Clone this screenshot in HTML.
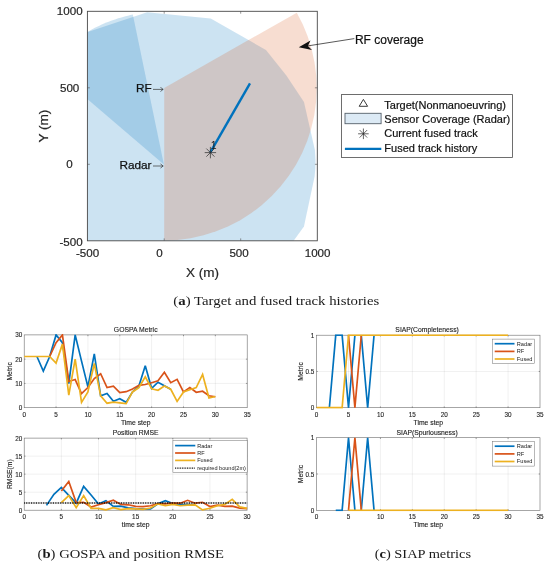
<!DOCTYPE html>
<html lang="en"><head><meta charset="utf-8"><title>Target and fused track histories; GOSPA, RMSE and SIAP metrics</title>
<style>html,body{margin:0;padding:0;background:#fff}body{width:550px;height:566px;overflow:hidden}svg{display:block;font-family:"Liberation Sans", Arial, Helvetica, sans-serif}</style></head><body>
<svg width="550" height="566" viewBox="0 0 550 566">
<rect width="550" height="566" fill="#fff"/>
<clipPath id="cpTop"><rect x="87.4" y="11.3" width="229.9" height="229.5"/></clipPath>
<g clip-path="url(#cpTop)">
<polygon points="147.15,12.25 210.72,18.54 265.98,50.06 286.36,75.54 303.97,102.07 314.9,150 315.5,160 315.4,168 314.6,176.5 303.97,226.53 266.58,278 211.48,309.81 148.21,316.46 87.7,296.8 40.42,254.23 14.54,196.11 14.54,132.49 39.64,75.45 86.55,32.47" fill="#0072BD" fill-opacity="0.2"/>
<polygon points="163.9,164.6 132.83,14.58 130.37,15.11 127.92,15.69 125.47,16.3 123.04,16.95 120.61,17.64 118.2,18.37 115.8,19.15 113.42,19.96 111.04,20.81 108.69,21.7 106.34,22.62 104.02,23.59 101.7,24.59 99.41,25.64 97.13,26.71 94.87,27.83 92.63,28.99 90.41,30.18 88.21,31.4 86.03,32.67 83.87,33.97 81.73,35.3 79.62,36.67 77.52,38.07 75.45,39.51 73.41,40.98 71.39,42.49 69.39,44.03 67.42,45.6 65.48,47.2 63.56,48.83 61.67,50.5 59.8,52.2 57.97,53.92 56.16,55.68 54.39,57.47 52.64,59.28 50.92,61.13 49.24,63 47.58,64.9" fill="#0072BD" fill-opacity="0.2"/>
<polygon points="164.2,88 164.2,240.5 177.45,239.92 190.59,238.2 203.54,235.34 216.19,231.36 228.45,226.31 240.22,220.2 251.42,213.1 261.95,205.05 271.75,196.12 280.74,186.36 288.84,175.87 296,164.71 302.17,152.97 307.29,140.74 311.33,128.11 314.26,115.18 316.05,102.04 316.7,88.8 316.19,75.55 314.53,62.39 311.74,49.43 307.83,36.76 302.84,24.48 296.8,12.67" fill="#D95319" fill-opacity="0.2"/>
</g>
<line x1="210.3" y1="152.4" x2="250" y2="83.3" stroke="#0072BD" stroke-width="2.4" stroke-linecap="butt"/>
<text x="210.7" y="148.9" font-size="10.5" fill="#1a1a1a">1</text>
<path d="M204.7 152.6H216.1M210.4 146.9V158.3M206.37 148.57L214.43 156.63M206.37 156.63L214.43 148.57" stroke="#2a2a2a" stroke-width="0.7" fill="none"/>
<rect x="87.4" y="11.3" width="229.9" height="229.5" fill="none" stroke="#484848" stroke-width="0.9"/>
<path d="M164.2 240.8v-2.4M164.2 11.3v2.4M87.4 164.3h2.4M317.3 164.3h-2.4M240.7 240.8v-2.4M240.7 11.3v2.4M87.4 87.8h2.4M317.3 87.8h-2.4" stroke="#505050" stroke-width="0.6" fill="none"/>
<g font-size="11.6" fill="#262626" stroke="#262626" stroke-width="0.2">
<text x="82.6" y="15.2" text-anchor="end">1000</text>
<text x="79.3" y="91.7" text-anchor="end">500</text>
<text x="72.6" y="168.1" text-anchor="end">0</text>
<text x="82.6" y="245.5" text-anchor="end">-500</text>
<text x="87.6" y="257" text-anchor="middle">-500</text>
<text x="159.6" y="257" text-anchor="middle">0</text>
<text x="239.1" y="257" text-anchor="middle">500</text>
<text x="317.6" y="257" text-anchor="middle">1000</text>
</g>
<text x="202.4" y="276.8" font-size="13.5" fill="#262626" stroke="#262626" stroke-width="0.2" text-anchor="middle">X (m)</text>
<text transform="translate(47.9 126.1) rotate(-90)" font-size="13.6" fill="#262626" stroke="#262626" stroke-width="0.2" text-anchor="middle">Y (m)</text>
<g font-size="11.8" fill="#111" stroke="#111" stroke-width="0.25">
<text x="136" y="91.9">RF</text>
<text x="119.4" y="168.7">Radar</text>
</g>
<path d="M153 89.4H163.1M160.6 87.1Q161.6 88.8 163.2 89.4Q161.6 90 160.6 91.7" stroke="#333" stroke-width="0.7" fill="none"/>
<path d="M153 166H163.1M160.6 163.7Q161.6 165.4 163.2 166Q161.6 166.6 160.6 168.3" stroke="#333" stroke-width="0.7" fill="none"/>
<text x="354.9" y="43.5" font-size="12" fill="#111" stroke="#111" stroke-width="0.2">RF coverage</text>
<line x1="354.3" y1="38.6" x2="302.8" y2="46.7" stroke="#111" stroke-width="0.7"/>
<polygon points="298.8,47.3 310.5,40.61 307.89,45.88 311.99,50.09" fill="#111"/>
<rect x="341.4" y="94.6" width="171" height="62.8" fill="#fff" stroke="#4a4a4a" stroke-width="0.8"/>
<g font-size="11" fill="#111" stroke="#111" stroke-width="0.2">
<text x="384.3" y="108.5">Target(Nonmanoeuvring)</text>
<text x="384.3" y="123">Sensor Coverage (Radar)</text>
<text x="384.3" y="137.2">Current fused track</text>
<text x="384.3" y="151.6">Fused track history</text>
</g>
<polygon points="363.4,99.4 359.2,106.3 367.6,106.3" fill="none" stroke="#222" stroke-width="0.9"/>
<rect x="345" y="113.3" width="36.1" height="10.4" fill="#DCEAF5" stroke="#55606a" stroke-width="0.9"/>
<path d="M358.1 133.8H368.7M363.4 128.5V139.1M359.65 130.05L367.15 137.55M359.65 137.55L367.15 130.05" stroke="#222" stroke-width="0.7" fill="none"/>
<line x1="344.9" y1="148.9" x2="381.3" y2="148.9" stroke="#0072BD" stroke-width="2.4"/>
<path d="M56.06 334.9V407.7M87.91 334.9V407.7M119.77 334.9V407.7M151.63 334.9V407.7M183.49 334.9V407.7M215.34 334.9V407.7M24.2 383.43H247.2M24.2 359.17H247.2" stroke="#000" stroke-opacity="0.10" stroke-width="0.6" fill="none"/>
<rect x="24.2" y="334.9" width="223" height="72.8" fill="none" stroke="#6c6c6c" stroke-width="0.6"/>
<path d="M56.06 407.7v-1.3M56.06 334.9v1.3M87.91 407.7v-1.3M87.91 334.9v1.3M119.77 407.7v-1.3M119.77 334.9v1.3M151.63 407.7v-1.3M151.63 334.9v1.3M183.49 407.7v-1.3M183.49 334.9v1.3M215.34 407.7v-1.3M215.34 334.9v1.3M24.2 383.43h1.3M247.2 383.43h-1.3M24.2 359.17h1.3M247.2 359.17h-1.3" stroke="#444" stroke-width="0.5" fill="none"/>
<clipPath id="cpG"><rect x="23.2" y="333.9" width="225" height="74.8"/></clipPath>
<g clip-path="url(#cpG)" fill="none" stroke-width="1.7" stroke-linejoin="miter" stroke-miterlimit="3">
<polyline points="36.94,356.5 43.31,371.06 49.69,356.5 56.06,334.9 62.43,342.67 68.8,383.68 75.17,334.9 81.54,361.11 87.91,386.83 94.29,353.83 100.66,395.81 107.03,393.5 113.4,401.27 119.77,398.72 126.14,402.36 132.51,391.93 138.89,386.1 145.26,365.84 151.63,388.29 158,382.22 164.37,385.74 170.74,389.26" stroke="#0072BD"/>
<polyline points="49.69,356.5 56.06,342.67 62.43,334.9 68.8,381.49 75.17,379.55 81.54,393.5 87.91,387.56 94.29,378.58 100.66,373.73 107.03,387.56 113.4,386.1 119.77,392.65 126.14,391.68 132.51,389.01 138.89,385.37 145.26,384.53 151.63,382.71 158,380.76 164.37,372.27 170.74,382.71 177.11,379.31 183.49,391.93 189.86,387.56 196.23,392.29 202.6,391.2 208.97,395.81 215.34,396.78" stroke="#D95319"/>
<polyline points="24.2,356.5 30.57,356.5 36.94,356.5 43.31,356.5 49.69,356.5 56.06,363.05 62.43,344.12 68.8,395.08 75.17,359.17 81.54,402.36 87.91,391.93 94.29,363.53 100.66,395.81 107.03,403.21 113.4,402.12 119.77,402.85 126.14,403.57 132.51,391.93 138.89,387.56 145.26,376.76 151.63,388.77 158,390.23 164.37,386.1 170.74,389.26 177.11,401.39 183.49,391.93 189.86,389.74 196.23,387.56 202.6,374.45 208.97,397.99 215.34,396.54" stroke="#EDB120"/>
</g>
<g font-size="6.35" fill="#262626" stroke="#262626" stroke-width="0.12">
<text x="24.2" y="416.6" text-anchor="middle">0</text>
<text x="56.06" y="416.6" text-anchor="middle">5</text>
<text x="87.91" y="416.6" text-anchor="middle">10</text>
<text x="119.77" y="416.6" text-anchor="middle">15</text>
<text x="151.63" y="416.6" text-anchor="middle">20</text>
<text x="183.49" y="416.6" text-anchor="middle">25</text>
<text x="215.34" y="416.6" text-anchor="middle">30</text>
<text x="247.2" y="416.6" text-anchor="middle">35</text>
<text x="22.3" y="410.25" text-anchor="end">0</text>
<text x="22.3" y="385.98" text-anchor="end">10</text>
<text x="22.3" y="361.72" text-anchor="end">20</text>
<text x="22.3" y="337.45" text-anchor="end">30</text>
</g>
<g font-size="6.8" fill="#1c1c1c" stroke="#1c1c1c" stroke-width="0.12" text-anchor="middle">
<text x="135.7" y="332.1">GOSPA Metric</text>
<text x="135.7" y="425.2">Time step</text>
<text transform="translate(12.1 371.3) rotate(-90)">Metric</text>
</g>
<path d="M61.35 438.1V510.2M98.5 438.1V510.2M135.65 438.1V510.2M172.8 438.1V510.2M209.95 438.1V510.2M24.2 492.18H247.1M24.2 474.15H247.1M24.2 456.12H247.1" stroke="#000" stroke-opacity="0.10" stroke-width="0.6" fill="none"/>
<rect x="24.2" y="438.1" width="222.9" height="72.1" fill="none" stroke="#6c6c6c" stroke-width="0.6"/>
<path d="M61.35 510.2v-1.3M61.35 438.1v1.3M98.5 510.2v-1.3M98.5 438.1v1.3M135.65 510.2v-1.3M135.65 438.1v1.3M172.8 510.2v-1.3M172.8 438.1v1.3M209.95 510.2v-1.3M209.95 438.1v1.3M24.2 492.18h1.3M247.1 492.18h-1.3M24.2 474.15h1.3M247.1 474.15h-1.3M24.2 456.12h1.3M247.1 456.12h-1.3" stroke="#444" stroke-width="0.5" fill="none"/>
<clipPath id="cpR"><rect x="23.2" y="437.1" width="224.9" height="74.1"/></clipPath>
<g clip-path="url(#cpR)" fill="none" stroke-width="1.7" stroke-linejoin="miter" stroke-miterlimit="3">
<polyline points="46.49,505.37 53.92,494.34 61.35,487.49 68.78,495.42 76.21,503.21 83.64,486.41 91.07,495.06 98.5,504.07 105.93,500.65 113.36,506.38 120.79,506.13 128.22,507.89 135.65,508.69 143.08,509.19 150.51,508.94 157.94,503.82 165.37,500.65 172.8,503.46 180.23,504.43 187.66,504.61 195.09,504.79" stroke="#0072BD"/>
<polyline points="61.35,491.09 68.78,481.54 76.21,502.63 83.64,502.27 91.07,506.96 98.5,504.79 105.93,502.63 113.36,500.29 120.79,504.43 128.22,504.79 135.65,506.38 143.08,506.59 150.51,505.73 157.94,503.57 165.37,503.82 172.8,502.99 180.23,503.21 187.66,500.29 195.09,503.21 202.52,502.27 209.95,506.59 217.38,505.15 224.81,506.38 232.24,506.13 239.67,508.04 247.1,508.69" stroke="#D95319"/>
<polyline points="61.35,502.63 68.78,495.56 76.21,507.68 83.64,495.56 91.07,508.29 98.5,508.4 105.93,509.84 113.36,507.68 120.79,509.55 128.22,508.69 135.65,508.94 143.08,509.3 150.51,508.04 157.94,503.82 165.37,505.73 172.8,504.43 180.23,505.73 187.66,505.15 195.09,504.79 202.52,509.95 209.95,508.29 217.38,505.73 224.81,504.43 232.24,499.38 239.67,506.96 247.1,508.29" stroke="#EDB120"/>
<line x1="24.2" y1="502.99" x2="247.1" y2="502.99" stroke="#000" stroke-width="1.4" stroke-dasharray="0.9 0.8"/>
</g>
<g font-size="6.35" fill="#262626" stroke="#262626" stroke-width="0.12">
<text x="24.2" y="519.4" text-anchor="middle">0</text>
<text x="61.35" y="519.4" text-anchor="middle">5</text>
<text x="98.5" y="519.4" text-anchor="middle">10</text>
<text x="135.65" y="519.4" text-anchor="middle">15</text>
<text x="172.8" y="519.4" text-anchor="middle">20</text>
<text x="209.95" y="519.4" text-anchor="middle">25</text>
<text x="247.1" y="519.4" text-anchor="middle">30</text>
<text x="22.3" y="512.75" text-anchor="end">0</text>
<text x="22.3" y="494.73" text-anchor="end">5</text>
<text x="22.3" y="476.7" text-anchor="end">10</text>
<text x="22.3" y="458.68" text-anchor="end">15</text>
<text x="22.3" y="440.65" text-anchor="end">20</text>
</g>
<g font-size="6.8" fill="#1c1c1c" stroke="#1c1c1c" stroke-width="0.12" text-anchor="middle">
<text x="135.65" y="434.9">Position RMSE</text>
<text x="135.65" y="526.9">time step</text>
<text transform="translate(12.1 474.15) rotate(-90)">RMSE(m)</text>
</g>
<rect x="172.9" y="440.7" width="74.3" height="31.6" fill="#fff" stroke="#707070" stroke-width="0.5"/>
<line x1="175.1" y1="445.6" x2="195.3" y2="445.6" stroke="#0072BD" stroke-width="1.7"/>
<text x="197.2" y="447.5" font-size="5.55" fill="#222">Radar</text>
<line x1="175.1" y1="453" x2="195.3" y2="453" stroke="#D95319" stroke-width="1.7"/>
<text x="197.2" y="454.9" font-size="5.55" fill="#222">RF</text>
<line x1="175.1" y1="460.4" x2="195.3" y2="460.4" stroke="#EDB120" stroke-width="1.7"/>
<text x="197.2" y="462.3" font-size="5.55" fill="#222">Fused</text>
<line x1="175.1" y1="468.1" x2="195.3" y2="468.1" stroke="#000" stroke-width="1.4" stroke-dasharray="0.9 0.8"/>
<text x="197.2" y="470" font-size="5.55" fill="#222">required bound(2m)</text>
<path d="M348.51 335.2V407.7M380.43 335.2V407.7M412.34 335.2V407.7M444.26 335.2V407.7M476.17 335.2V407.7M508.09 335.2V407.7M316.6 371.45H540" stroke="#000" stroke-opacity="0.10" stroke-width="0.6" fill="none"/>
<rect x="316.6" y="335.2" width="223.4" height="72.5" fill="none" stroke="#6c6c6c" stroke-width="0.6"/>
<path d="M348.51 407.7v-1.3M348.51 335.2v1.3M380.43 407.7v-1.3M380.43 335.2v1.3M412.34 407.7v-1.3M412.34 335.2v1.3M444.26 407.7v-1.3M444.26 335.2v1.3M476.17 407.7v-1.3M476.17 335.2v1.3M508.09 407.7v-1.3M508.09 335.2v1.3M316.6 371.45h1.3M540 371.45h-1.3" stroke="#444" stroke-width="0.5" fill="none"/>
<clipPath id="cpC"><rect x="315.6" y="334.2" width="225.4" height="74.5"/></clipPath>
<g clip-path="url(#cpC)" fill="none" stroke-width="1.7" stroke-linejoin="miter" stroke-miterlimit="3">
<polyline points="329.37,407.7 335.75,335.2 342.13,335.2 348.51,407.7 354.9,335.2" stroke="#0072BD"/>
<polyline points="361.28,335.2 367.66,407.7 374.05,335.2" stroke="#0072BD"/>
<polyline points="348.51,335.2 354.9,407.7 361.28,335.2" stroke="#D95319"/>
<polyline points="316.6,407.7 322.98,407.7 329.37,407.7 335.75,407.7 342.13,407.7 348.51,335.2 354.9,335.2 361.28,335.2 367.66,335.2 374.05,335.2 380.43,335.2 386.81,335.2 393.19,335.2 399.58,335.2 405.96,335.2 412.34,335.2 418.73,335.2 425.11,335.2 431.49,335.2 437.87,335.2 444.26,335.2 450.64,335.2 457.02,335.2 463.41,335.2 469.79,335.2 476.17,335.2 482.55,335.2 488.94,335.2 495.32,335.2 501.7,335.2 508.09,335.2" stroke="#EDB120"/>
</g>
<g font-size="6.35" fill="#262626" stroke="#262626" stroke-width="0.12">
<text x="316.6" y="416.6" text-anchor="middle">0</text>
<text x="348.51" y="416.6" text-anchor="middle">5</text>
<text x="380.43" y="416.6" text-anchor="middle">10</text>
<text x="412.34" y="416.6" text-anchor="middle">15</text>
<text x="444.26" y="416.6" text-anchor="middle">20</text>
<text x="476.17" y="416.6" text-anchor="middle">25</text>
<text x="508.09" y="416.6" text-anchor="middle">30</text>
<text x="540" y="416.6" text-anchor="middle">35</text>
<text x="314.3" y="410.25" text-anchor="end">0</text>
<text x="314.3" y="374" text-anchor="end">0.5</text>
<text x="314.3" y="337.75" text-anchor="end">1</text>
</g>
<g font-size="6.8" fill="#1c1c1c" stroke="#1c1c1c" stroke-width="0.12" text-anchor="middle">
<text x="427.1" y="332">SIAP(Completeness)</text>
<text x="428.3" y="425.2">Time step</text>
<text transform="translate(302.7 371.45) rotate(-90)">Metric</text>
</g>
<rect x="492.3" y="339.1" width="42.3" height="24.5" fill="#fff" stroke="#707070" stroke-width="0.5"/>
<line x1="494.7" y1="343.7" x2="514.5" y2="343.7" stroke="#0072BD" stroke-width="1.7"/>
<text x="516.8" y="345.6" font-size="5.65" fill="#222">Radar</text>
<line x1="494.7" y1="351.4" x2="514.5" y2="351.4" stroke="#D95319" stroke-width="1.7"/>
<text x="516.8" y="353.3" font-size="5.65" fill="#222">RF</text>
<line x1="494.7" y1="359" x2="514.5" y2="359" stroke="#EDB120" stroke-width="1.7"/>
<text x="516.8" y="360.9" font-size="5.65" fill="#222">Fused</text>
<path d="M348.51 437.7V510.3M380.43 437.7V510.3M412.34 437.7V510.3M444.26 437.7V510.3M476.17 437.7V510.3M508.09 437.7V510.3M316.6 474H540" stroke="#000" stroke-opacity="0.10" stroke-width="0.6" fill="none"/>
<rect x="316.6" y="437.7" width="223.4" height="72.6" fill="none" stroke="#6c6c6c" stroke-width="0.6"/>
<path d="M348.51 510.3v-1.3M348.51 437.7v1.3M380.43 510.3v-1.3M380.43 437.7v1.3M412.34 510.3v-1.3M412.34 437.7v1.3M444.26 510.3v-1.3M444.26 437.7v1.3M476.17 510.3v-1.3M476.17 437.7v1.3M508.09 510.3v-1.3M508.09 437.7v1.3M316.6 474h1.3M540 474h-1.3" stroke="#444" stroke-width="0.5" fill="none"/>
<clipPath id="cpS"><rect x="315.6" y="436.7" width="225.4" height="74.6"/></clipPath>
<g clip-path="url(#cpS)" fill="none" stroke-width="1.7" stroke-linejoin="miter" stroke-miterlimit="3">
<polyline points="335.75,510.3 342.13,510.3 348.51,437.7 354.9,510.3" stroke="#0072BD"/>
<polyline points="361.28,510.3 367.66,437.7 374.05,510.3" stroke="#0072BD"/>
<polyline points="348.51,510.3 354.9,437.7 361.28,510.3" stroke="#D95319"/>
<polyline points="348.51,510.3 354.9,510.3 361.28,510.3 367.66,510.3 374.05,510.3 380.43,510.3 386.81,510.3 393.19,510.3 399.58,510.3 405.96,510.3 412.34,510.3 418.73,510.3 425.11,510.3 431.49,510.3 437.87,510.3 444.26,510.3 450.64,510.3 457.02,510.3 463.41,510.3 469.79,510.3 476.17,510.3 482.55,510.3 488.94,510.3 495.32,510.3 501.7,510.3 508.09,510.3" stroke="#EDB120"/>
</g>
<g font-size="6.35" fill="#262626" stroke="#262626" stroke-width="0.12">
<text x="316.6" y="519.3" text-anchor="middle">0</text>
<text x="348.51" y="519.3" text-anchor="middle">5</text>
<text x="380.43" y="519.3" text-anchor="middle">10</text>
<text x="412.34" y="519.3" text-anchor="middle">15</text>
<text x="444.26" y="519.3" text-anchor="middle">20</text>
<text x="476.17" y="519.3" text-anchor="middle">25</text>
<text x="508.09" y="519.3" text-anchor="middle">30</text>
<text x="540" y="519.3" text-anchor="middle">35</text>
<text x="314.3" y="512.85" text-anchor="end">0</text>
<text x="314.3" y="476.55" text-anchor="end">0.5</text>
<text x="314.3" y="440.25" text-anchor="end">1</text>
</g>
<g font-size="6.8" fill="#1c1c1c" stroke="#1c1c1c" stroke-width="0.12" text-anchor="middle">
<text x="427.1" y="434.6">SIAP(Spuriousness)</text>
<text x="428.3" y="527">Time step</text>
<text transform="translate(302.7 474) rotate(-90)">Metric</text>
</g>
<rect x="492.3" y="441.6" width="42.3" height="24.5" fill="#fff" stroke="#707070" stroke-width="0.5"/>
<line x1="494.7" y1="446.2" x2="514.5" y2="446.2" stroke="#0072BD" stroke-width="1.7"/>
<text x="516.8" y="448.1" font-size="5.65" fill="#222">Radar</text>
<line x1="494.7" y1="453.9" x2="514.5" y2="453.9" stroke="#D95319" stroke-width="1.7"/>
<text x="516.8" y="455.8" font-size="5.65" fill="#222">RF</text>
<line x1="494.7" y1="461.5" x2="514.5" y2="461.5" stroke="#EDB120" stroke-width="1.7"/>
<text x="516.8" y="463.4" font-size="5.65" fill="#222">Fused</text>
<g font-family='"Liberation Serif", "Times New Roman", serif' font-size="13" fill="#1a1a1a">
<text x="173.3" y="304.6" textLength="206" lengthAdjust="spacingAndGlyphs">(<tspan font-weight="bold">a</tspan>) Target and fused track histories</text>
<text x="37.6" y="557.5" textLength="186.4" lengthAdjust="spacingAndGlyphs">(<tspan font-weight="bold">b</tspan>) GOSPA and position RMSE</text>
<text x="374.7" y="557.5" textLength="96.4" lengthAdjust="spacingAndGlyphs">(<tspan font-weight="bold">c</tspan>) SIAP metrics</text>
</g>
</svg></body></html>
